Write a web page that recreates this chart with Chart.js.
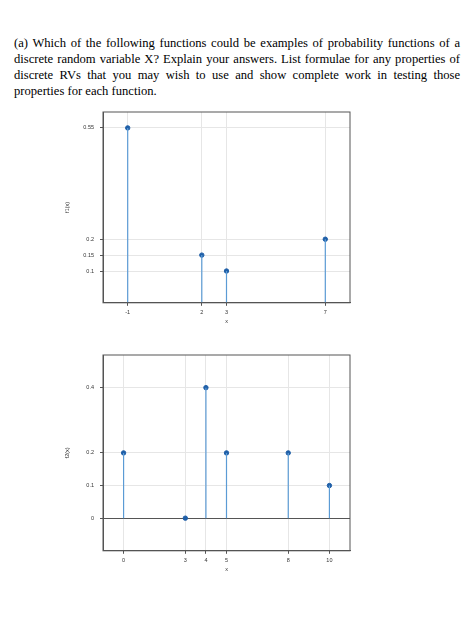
<!DOCTYPE html>
<html>
<head>
<script src="https://cdn.jsdelivr.net/npm/chart.js@4"></script>
<style>
body { margin:0; background:#fff; width:474px; height:625px; position:relative; overflow:hidden; }
#q { position:absolute; left:14px; top:35px; width:446px; font-family:"Liberation Serif",serif; font-size:12.6px; line-height:16px; text-align:justify; text-align-last:left; color:#000; }
.c { position:absolute; left:60px; width:300px; }
</style>
</head>
<body>
<div id="q">(a) Which of the following functions could be examples of probability functions of a discrete random variable X? Explain your answers. List formulae for any properties of discrete RVs that you may wish to use and show complete work in testing those properties for each function.</div>
<div class="c" style="top:100px;height:225px"><canvas id="c1"></canvas></div>
<div class="c" style="top:343px;height:230px"><canvas id="c2"></canvas></div>
<script>
var x1 = [-1, 2, 3, 7];
var f1 = [0.55, 0.15, 0.1, 0.2];
var ticksX1 = [-1, 2, 3, 7];
var ticksY1 = [0.1, 0.15, 0.2, 0.55];

var x2 = [0, 3, 4, 5, 8, 10];
var f2 = [0.2, 0, 0.4, 0.2, 0.2, 0.1];
var ticksX2 = [0, 3, 4, 5, 8, 10];
var ticksY2 = [0, 0.1, 0.2, 0.4];

function stemChart(id, xs, ys, tx, ty, xmin, xmax, ymin, ymax, ylabel, zeroLine) {
    var stems = [];
    xs.forEach(function(x, i) {
        stems.push({x: x, y: 0}, {x: x, y: ys[i]}, {x: x, y: null});
    });
    var pts = xs.map(function(x, i) { return {x: x, y: ys[i]}; });
    new Chart(document.getElementById(id), {
        type: 'scatter',
        data: {
            datasets: [{
                data: stems, showLine: true, spanGaps: false, borderColor: '#5b9bd5',
                borderWidth: 1.2, pointRadius: 0
            }, {
                data: pts, pointRadius: 2.2, backgroundColor: '#1f5fa8', borderColor: '#1f5fa8'
            }]
        },
        options: {
            animation: false, responsive: true, maintainAspectRatio: false,
            plugins: { legend: { display: false }, tooltip: { enabled: false } },
            layout: { padding: { right: 10, top: 12 } },
            scales: {
                x: {
                    type: 'linear', min: xmin, max: xmax,
                    afterBuildTicks: function(s) { s.ticks = tx.map(function(v) { return {value: v}; }); },
                    grid: { color: '#e6e6e6', tickLength: 3, tickColor: '#555' },
                    border: { color: '#555' },
                    ticks: { font: { size: 5.5 }, color: '#333', callback: function(v) { return String(v); } },
                    title: { display: true, text: 'x', font: { size: 5.5 }, color: '#333', padding: 0 }
                },
                y: {
                    min: ymin, max: ymax,
                    afterBuildTicks: function(s) { s.ticks = ty.map(function(v) { return {value: v}; }); },
                    afterFit: function(s) { s.width = 43; },
                    grid: {
                        color: function(c) { return (zeroLine && c.tick && c.tick.value === 0) ? '#555' : '#e6e6e6'; },
                        tickLength: 3, tickColor: '#555'
                    },
                    border: { color: '#555' },
                    ticks: { font: { size: 5.5 }, color: '#333', padding: 6, callback: function(v) { return String(v); } },
                    title: { display: true, text: ylabel, font: { size: 5.5 }, color: '#333', padding: 4 }
                }
            }
        },
        plugins: [{
            id: 'box',
            afterDraw: function(ch) {
                var a = ch.chartArea, c = ch.ctx;
                c.save(); c.strokeStyle = '#555'; c.lineWidth = 1;
                c.strokeRect(a.left, a.top, a.right - a.left, a.bottom - a.top);
                c.restore();
            }
        }]
    });
}

stemChart('c1', x1, f1, ticksX1, ticksY1, -2, 8, 0, 0.6, 'f1(x)', false);
stemChart('c2', x2, f2, ticksX2, ticksY2, -1, 11, -0.1, 0.5, 'f2(x)', true);
</script>
</body>
</html>
